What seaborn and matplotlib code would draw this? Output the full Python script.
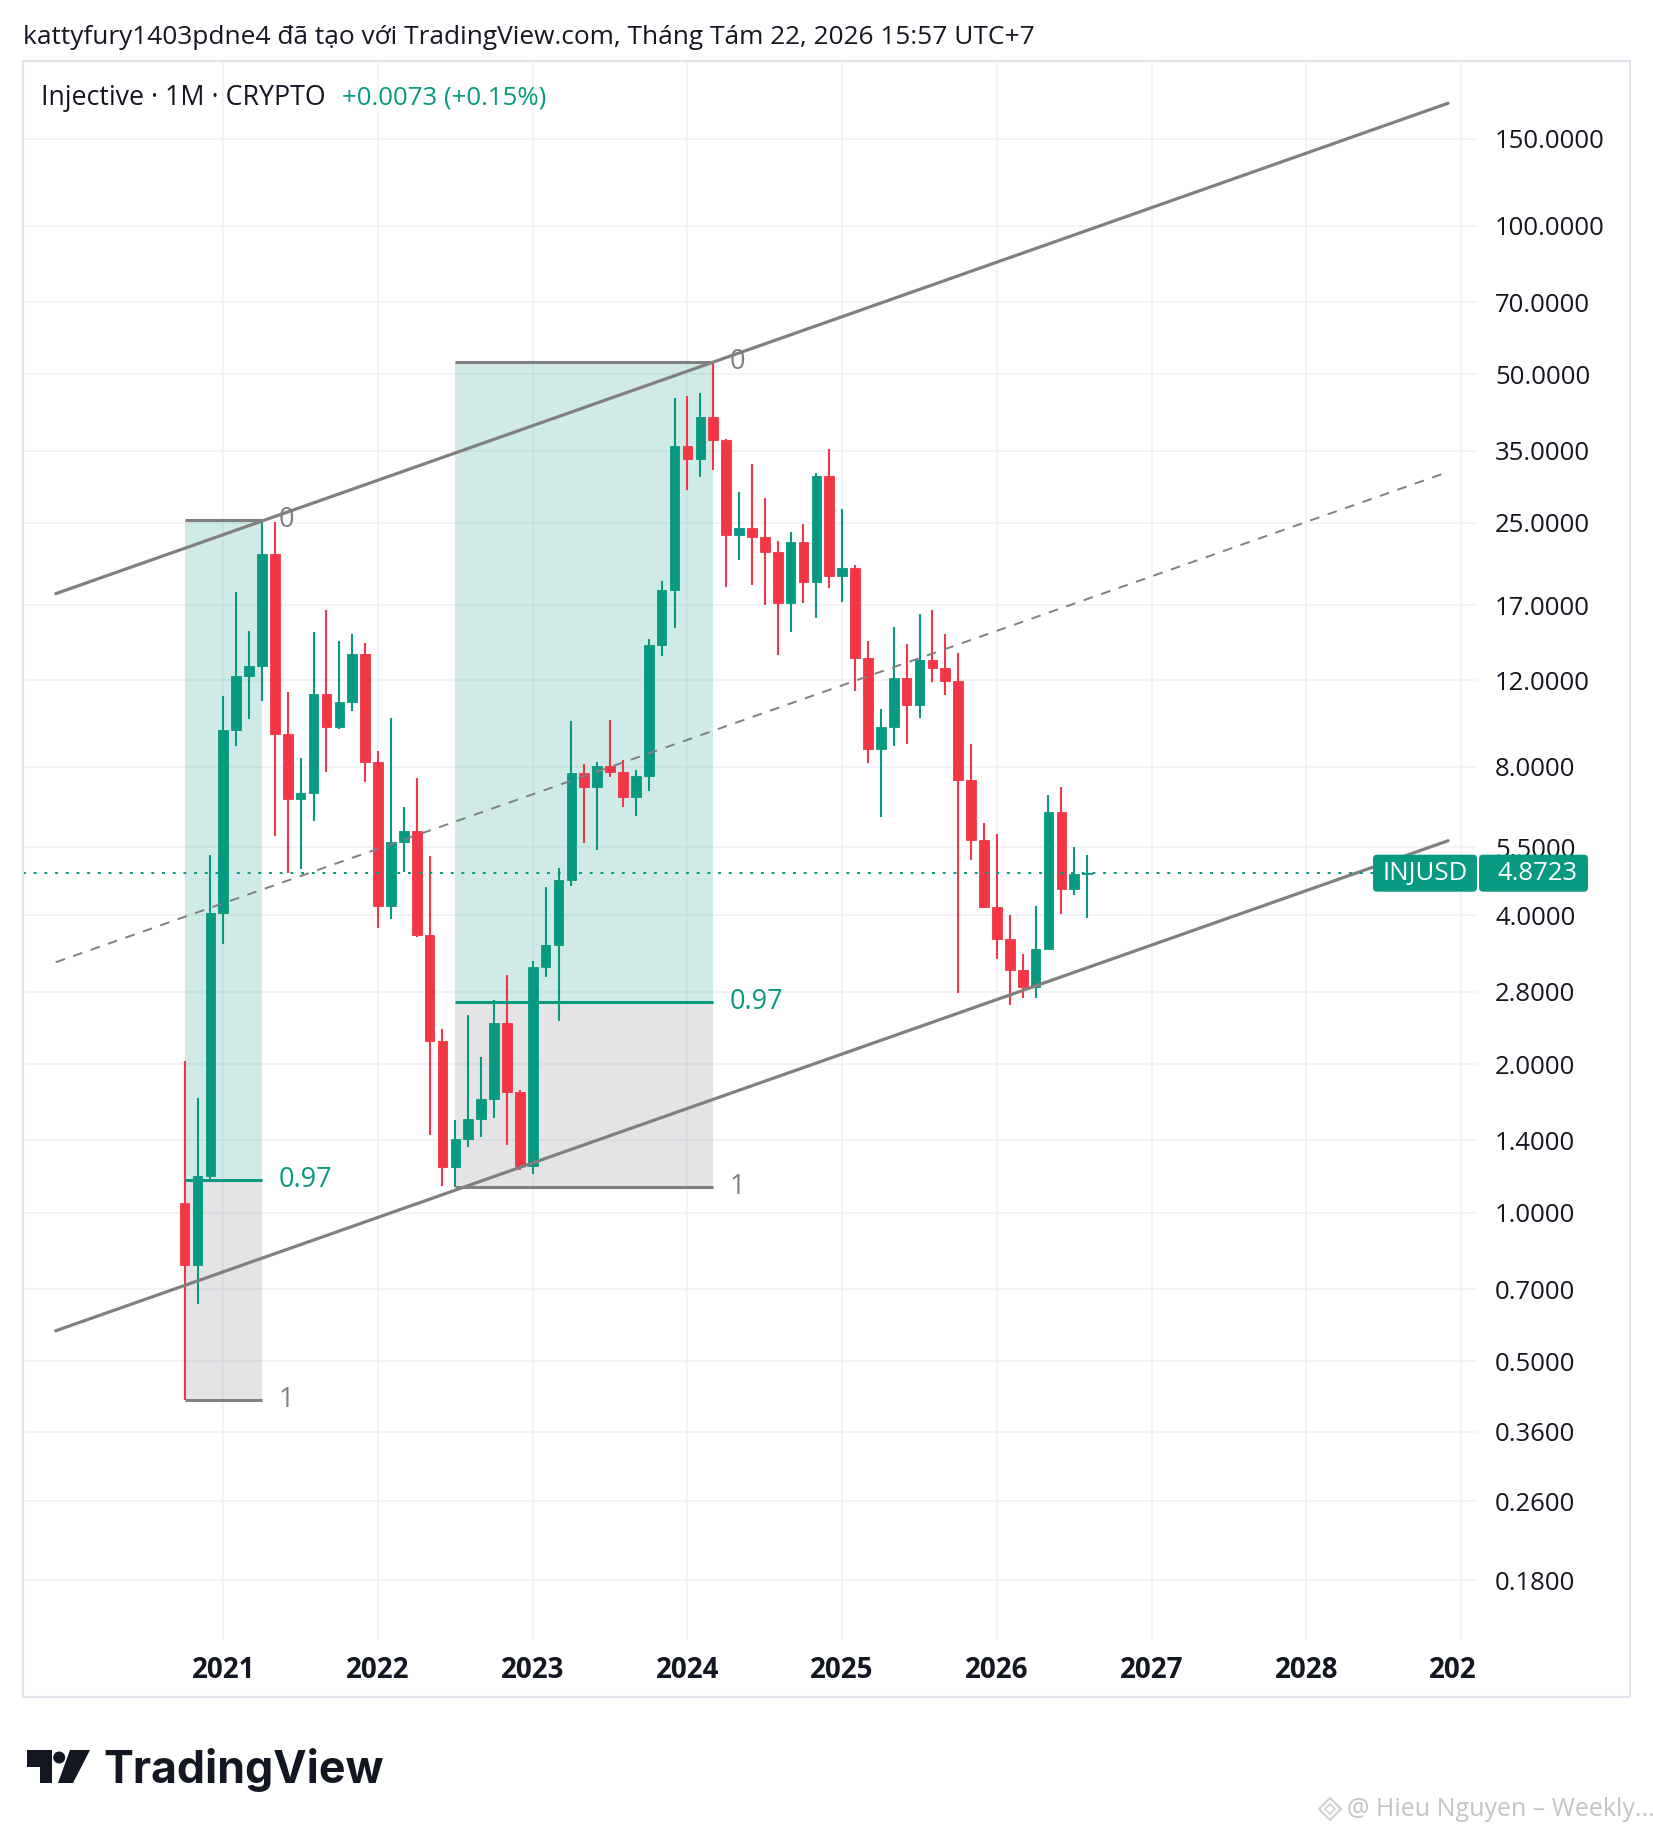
import numpy as np
import pandas as pd
import matplotlib
matplotlib.use("Agg")
import matplotlib.pyplot as plt
import seaborn as sns
from matplotlib.patches import Polygon, Circle, FancyBboxPatch, Rectangle
from matplotlib.transforms import IdentityTransform, Bbox, blended_transform_factory
from matplotlib.ticker import FixedLocator, NullLocator, FixedFormatter

# ---------------- data ----------------
months = ["2020-10", "2020-11", "2020-12",
          "2021-01", "2021-02", "2021-03", "2021-04", "2021-05", "2021-06",
          "2021-07", "2021-08", "2021-09", "2021-10", "2021-11", "2021-12",
          "2022-01", "2022-02", "2022-03", "2022-04", "2022-05", "2022-06",
          "2022-07", "2022-08", "2022-09", "2022-10", "2022-11", "2022-12",
          "2023-01", "2023-02", "2023-03", "2023-04", "2023-05", "2023-06",
          "2023-07", "2023-08", "2023-09", "2023-10", "2023-11", "2023-12",
          "2024-01", "2024-02", "2024-03", "2024-04", "2024-05", "2024-06",
          "2024-07", "2024-08", "2024-09", "2024-10", "2024-11", "2024-12",
          "2025-01", "2025-02", "2025-03", "2025-04", "2025-05", "2025-06",
          "2025-07", "2025-08", "2025-09", "2025-10", "2025-11", "2025-12",
          "2026-01", "2026-02", "2026-03", "2026-04", "2026-05", "2026-06",
          "2026-07", "2026-08"]
opens = [1.044, 0.782, 1.187,
         4.05, 9.5, 12.2, 12.8, 21.6, 9.33,
         6.9, 7.07, 11.24, 9.65, 10.83, 13.55,
         8.2, 4.19, 5.64, 5.93, 3.66, 2.23,
         1.237, 1.41, 1.545, 1.70, 2.42, 1.755,
         1.24, 3.14, 3.49, 4.72, 7.77, 7.27,
         8.04, 7.82, 6.96, 7.66, 14.13, 18.3,
         35.8, 33.7, 40.9, 36.7, 23.6, 24.4,
         23.4, 21.8, 17.2, 22.9, 19.0, 31.1,
         19.5, 20.2, 13.3, 8.68, 9.62, 12.1,
         10.7, 13.2, 12.7, 11.96, 7.52, 5.69,
         4.16, 3.58, 3.10, 2.86, 3.42, 6.49,
         4.52, 4.865]
highs = [2.03, 1.705, 5.3,
         11.14, 18.1, 15.1, 25.3, 25.1, 11.35,
         8.34, 15.0, 16.6, 14.4, 14.9, 14.26,
         8.6, 10.04, 6.63, 7.6, 5.28, 2.36,
         1.54, 2.51, 2.07, 2.70, 3.03, 1.77,
         3.24, 4.57, 5.0, 9.93, 8.11, 8.2,
         9.95, 8.25, 7.9, 14.5, 19.05, 44.7,
         45.2, 45.8, 52.8, 36.9, 28.9, 32.9,
         28.1, 23.0, 23.9, 24.9, 31.5, 35.3,
         26.7, 20.5, 14.4, 10.5, 15.4, 14.2,
         16.3, 16.6, 14.9, 13.6, 8.9, 6.16,
         5.85, 4.0, 3.34, 4.18, 7.02, 7.29,
         5.5, 5.31]
lows = [0.417, 0.652, 1.17,
        3.5, 8.8, 10.0, 10.9, 5.8, 4.88,
        4.96, 6.22, 7.83, 9.54, 10.4, 7.47,
        3.77, 3.93, 4.91, 3.62, 1.435, 1.13,
        1.127, 1.36, 1.42, 1.555, 1.37, 1.22,
        1.2, 3.0, 2.45, 4.6, 5.62, 5.43,
        7.64, 6.64, 6.37, 7.14, 13.4, 15.3,
        29.1, 31.0, 31.9, 18.55, 21.0, 18.7,
        17.0, 13.5, 15.0, 17.2, 16.0, 18.4,
        17.3, 11.4, 8.15, 6.34, 8.82, 8.9,
        10.06, 11.9, 11.2, 2.78, 5.18, 4.15,
        3.26, 2.64, 2.72, 2.72, 3.42, 4.02,
        4.41, 3.95]
closes = [0.782, 1.187, 4.05,
          9.5, 12.2, 12.8, 21.6, 9.33, 6.9,
          7.07, 11.24, 9.65, 10.83, 13.55, 8.2,
          4.19, 5.64, 5.93, 3.66, 2.23, 1.237,
          1.41, 1.545, 1.70, 2.42, 1.755, 1.24,
          3.14, 3.49, 4.72, 7.77, 7.27, 8.04,
          7.82, 6.96, 7.66, 14.13, 18.3, 35.8,
          33.7, 40.9, 36.7, 23.6, 24.4, 23.4,
          21.8, 17.2, 22.9, 19.0, 31.1, 19.5,
          20.2, 13.3, 8.68, 9.62, 12.1, 10.7,
          13.2, 12.7, 11.96, 7.52, 5.69, 4.16,
          3.58, 3.10, 2.86, 3.42, 6.49, 4.52,
          4.865, 4.8723]

channel_dates = ["2019-12", "2028-12"]
upper_channel = [17.95, 177.0]
lower_channel = [0.576, 5.67]

fib_starts = ["2020-10", "2022-07"]
fib_ends = ["2021-04", "2024-03"]
fib_zero = [25.3, 52.8]
fib_one = [0.417, 1.127]
fib_levels = [0, 0.97, 1]
fib_labels = ["0", "0.97", "1"]

price_ticks = [150, 100, 70, 50, 35, 25, 17, 12, 8, 5.5, 4, 2.8, 2, 1.4, 1,
               0.7, 0.5, 0.36, 0.26, 0.18]
year_labels = ["2021", "2022", "2023", "2024", "2025", "2026", "2027", "2028", "2029"]
last_price = 4.8723
symbol = "INJUSD"
title_text = "kattyfury1403pdne4 đã tạo với TradingView.com, Tháng Tám 22, 2026 15:57 UTC+7"
legend_main = "Injective · 1M · CRYPTO"
legend_change = "+0.0073 (+0.15%)"
watermark = "@ Hieu Nguyen – Weekly..."

# ---------------- style ----------------
sns.set_theme(style="white")
plt.rcParams['font.family'] = ['Open Sans', 'DejaVu Sans']

GREEN = "#089981"
RED = "#f23645"
GRAY = "#808080"
TXT = "#131722"
GRID = "#f0f1f4"

W, H = 1653, 1834
fig = plt.figure(figsize=(W / 100, H / 100), dpi=100)
fig.patch.set_facecolor("white")

# layout in pixels (from top-left)
PL, PR, PT, PB = 23, 1477, 61, 1640
ax = fig.add_axes([PL / W, 1 - PB / H, (PR - PL) / W, (PB - PT) / H])
ax.set_facecolor("white")
for s in ax.spines.values():
    s.set_visible(False)


def midx(s):
    y, m = map(int, s.split("-"))
    return (y - 2021) * 12 + (m - 1)


# scale: month spacing and log pixels per decade
MONTH_PX = 12.893
X0_PX = 223.3  # Jan 2021
DEC_PX = 493.5
Y25_PX = 522.7
ax.set_yscale("log")
ax.set_xlim((PL - X0_PX) / MONTH_PX, (PR - X0_PX) / MONTH_PX)
ax.set_ylim(25 * 10 ** ((Y25_PX - PB) / DEC_PX), 25 * 10 ** ((Y25_PX - PT) / DEC_PX))

# grid
for p in price_ticks:
    ax.axhline(p, color=GRID, lw=1.1, zorder=0)
for i, _ in enumerate(year_labels):
    ax.axvline(i * 12, color=GRID, lw=1.1, zorder=0)

# fib boxes
for s, e, z, o in zip(fib_starts, fib_ends, fib_zero, fib_one):
    x0, x1 = midx(s), midx(e)
    lv = [z + f * (o - z) for f in fib_levels]
    ax.fill_between([x0, x1], [lv[1]] * 2, [lv[0]] * 2, color=GREEN, alpha=0.19, lw=0, zorder=1)
    ax.fill_between([x0, x1], [lv[2]] * 2, [lv[1]] * 2, color="#787b86", alpha=0.2, lw=0, zorder=1)
    for p, lab in zip(lv, fib_labels):
        c = GREEN if lab == "0.97" else GRAY
        ax.hlines(p, x0, x1, color=c, lw=2.2, zorder=5)
        ax.text(x1 + 1.3, p, lab, color=c, fontsize=19.5, ha="left", va="center", zorder=6)

# candles
t = np.array([midx(m) for m in months])
O, Hh, L, C = map(np.array, (opens, highs, lows, closes))
cols = np.where(C >= O, GREEN, RED)
ax.vlines(t, L, Hh, colors=cols, lw=1.5, zorder=3)
ax.bar(t, np.abs(C - O), bottom=np.minimum(O, C), width=0.75, color=cols,
       edgecolor=cols, lw=0.6, zorder=4)

# channel
ct = [midx(d) for d in channel_dates]
mid_channel = list(np.sqrt(np.array(upper_channel) * np.array(lower_channel)))
sns.lineplot(x=ct, y=upper_channel, ax=ax, color=GRAY, lw=2.3, zorder=6)
sns.lineplot(x=ct, y=lower_channel, ax=ax, color=GRAY, lw=2.3, zorder=6)
sns.lineplot(x=ct, y=mid_channel, ax=ax, color=GRAY, lw=1.4, zorder=6,
             linestyle=(0, (5, 4.5)))

# current price line
ax.axhline(last_price, color=GREEN, lw=1.4, linestyle=(0, (1.5, 4)), zorder=7)

# y axis
ax.yaxis.tick_right()
ax.yaxis.set_major_locator(FixedLocator(price_ticks))
ax.yaxis.set_minor_locator(NullLocator())
ax.yaxis.set_major_formatter(FixedFormatter([f"{p:.4f}" for p in price_ticks]))
ax.tick_params(axis="y", length=0, pad=13, labelsize=18.5, labelcolor=TXT)
ax.set_xticks([])
ax.tick_params(axis="x", length=0)
ax.set_xlabel("")
ax.set_ylabel("")

# x labels
bt = blended_transform_factory(ax.transData, ax.transAxes)
for i, lab in enumerate(year_labels):
    tx = fig.text(i * 12, -31 / (PB - PT), lab, transform=bt, ha="center", va="center",
                  fontsize=20, fontweight="bold", color=TXT)
    tx.set_clip_box(Bbox.from_extents(0, 0, PR - 1, H))
    tx.set_clip_on(True)


def px(x, y):
    return x / W, 1 - y / H


ID = IdentityTransform()

# header texts
fig.text(*px(23, 37), title_text, ha="left", va="center", fontsize=18.9, color=TXT)
fig.text(*px(41, 98), legend_main, ha="left", va="center", fontsize=19.3, color=TXT)
fig.text(*px(342, 98), legend_change, ha="left", va="center", fontsize=18.6, color=GREEN)

# border
fig.add_artist(Rectangle((23, H - 1697), 1630 - 23, 1697 - 61, transform=ID, fill=False,
                         ec="#e0e3eb", lw=1.5, zorder=1))

# price label boxes
yc = ax.transData.transform((0, last_price))[1]
fig.add_artist(FancyBboxPatch((1373, yc - 18.5), 104, 37, boxstyle="round,pad=0,rounding_size=4",
                              fc=GREEN, ec="none", transform=ID, zorder=10))
fig.add_artist(FancyBboxPatch((1479, yc - 18.5), 109, 37, boxstyle="round,pad=0,rounding_size=4",
                              fc=GREEN, ec="none", transform=ID, zorder=10))
fig.text(1425, yc, symbol, transform=ID, ha="center", va="center", fontsize=18.5,
         color="white", zorder=11)
fig.text(1537, yc, f"{last_price:.4f}", transform=ID, ha="center", va="center",
         fontsize=18.5, color="white", zorder=11)

# TradingView logo
def P(x, y):
    return (x, H - y)

fig.add_artist(Polygon([P(27, 1750), P(52, 1750), P(52, 1783), P(40, 1783), P(40, 1767), P(27, 1767)],
                       closed=True, fc=TXT, ec="none", transform=ID))
fig.add_artist(Circle(P(59.2, 1757.5), 6.0, fc=TXT, ec="none", transform=ID))
fig.add_artist(Polygon([P(70, 1750), P(90, 1750), P(73, 1783), P(58, 1783)],
                       closed=True, fc=TXT, ec="none", transform=ID))
fig.text(*px(103, 1783), "TradingView", ha="left", va="baseline", fontsize=32.2,
         fontweight="bold", color=TXT, family=["Inter", "DejaVu Sans"])

# watermark
cx, cy = 1330, 1809
fig.add_artist(Polygon([P(cx - 11, cy), P(cx, cy - 11), P(cx + 11, cy), P(cx, cy + 11)],
                       closed=True, fill=False, ec="#cfcfcf", lw=1.5, transform=ID))
fig.add_artist(Polygon([P(cx - 5, cy), P(cx, cy - 5), P(cx + 5, cy), P(cx, cy + 5)],
                       closed=True, fill=False, ec="#cfcfcf", lw=1.2, transform=ID))
fig.text(*px(1347, 1809), watermark, ha="left", va="center", fontsize=18, color="#c4c4c4")

fig.savefig("out.png", dpi=100, facecolor="white")
